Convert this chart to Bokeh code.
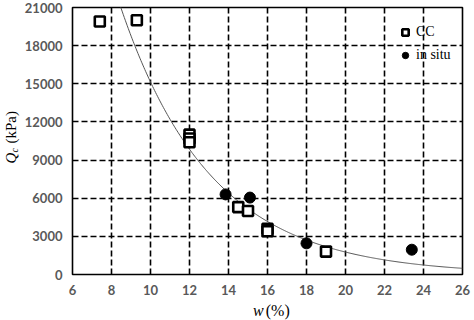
import numpy as np
from bokeh.plotting import figure
from bokeh.layouts import row, column
from bokeh.models import Range1d, FixedTicker, Label, Legend, LegendItem
from bokeh.embed import file_html
from bokeh.resources import INLINE

# ---- data ----
cc_w = [7.4, 9.3, 12.0, 12.0, 12.0, 14.5, 15.0, 16.0, 16.0, 19.0]
cc_q = [19900, 20000, 11000, 10700, 10400, 5300, 5000, 3600, 3400, 1800]
insitu_w = [13.85, 15.1, 18.0, 23.4]
insitu_q = [6300, 6050, 2450, 1950]
# exponential trendline Q = A * exp(-B * w), coefficients
TREND_A = 130000.0
TREND_B = 0.215
x_ticks = [6, 8, 10, 12, 14, 16, 18, 20, 22, 24, 26]
y_ticks = [0, 3000, 6000, 9000, 12000, 15000, 18000, 21000]

W, H = 474, 320
YLAB_W = 20          # strip holding the y-axis title
XLAB_H = 18          # strip holding the x-axis title
MAIN_W, MAIN_H = W - YLAB_W, H - XLAB_H
X0, X1, Y0, Y1 = 6, 26, 0, 21000
serif = "Liberation Serif"

p = figure(width=MAIN_W, height=MAIN_H, output_backend="svg",
           toolbar_location=None,
           x_range=Range1d(X0, X1), y_range=Range1d(Y0, Y1),
           min_border_left=72 - YLAB_W, min_border_right=12, min_border_top=7,
           min_border_bottom=MAIN_H - 274)
p.background_fill_color = "white"
p.border_fill_color = "white"
p.outline_line_color = "black"
p.outline_line_width = 1.6

for ax, ticks in ((p.xaxis, x_ticks), (p.yaxis, y_ticks)):
    ax.ticker = FixedTicker(ticks=ticks)
    ax.axis_line_color = None
    ax.major_tick_line_color = None
    ax.minor_tick_line_color = None
    ax.major_tick_in = 0
    ax.major_tick_out = 0
    ax.major_label_text_font = "Lato"
    ax.major_label_text_font_style = "bold"
    ax.major_label_text_font_size = "13px"
    ax.major_label_text_color = "#595959"
p.xaxis.major_label_standoff = 10
p.yaxis.major_label_standoff = 10

for g in (p.xgrid, p.ygrid):
    g.grid_line_color = "black"
    g.grid_line_width = 1.6
    g.grid_line_dash = "6 3"
p.xgrid.ticker = FixedTicker(ticks=x_ticks)
p.ygrid.ticker = FixedTicker(ticks=y_ticks)

# trendline
wx = np.linspace(X0, X1, 400)
qy = TREND_A * np.exp(-TREND_B * wx)
p.line(wx, qy, line_color="#555555", line_width=1)

r_cc = p.scatter(cc_w, cc_q, marker="square", size=10, fill_color="white",
                 line_color="black", line_width=2.6)
r_in = p.scatter(insitu_w, insitu_q, marker="circle", size=11,
                 fill_color="black", line_color="black")

legend = Legend(items=[LegendItem(label="CC", renderers=[r_cc]),
                       LegendItem(label="in situ", renderers=[r_in])],
                location=(325, 209), glyph_width=16, glyph_height=20,
                label_height=20, spacing=3, padding=0, margin=0,
                label_standoff=3, label_text_font=serif,
                label_text_font_size="14px", label_text_color="black",
                border_line_alpha=0, background_fill_alpha=0)
p.add_layout(legend)


def strip(w, h):
    f = figure(width=w, height=h, output_backend="svg", toolbar_location=None,
               x_range=Range1d(0, w), y_range=Range1d(0, h),
               x_axis_location=None, y_axis_location=None,
               min_border=0, min_border_left=0, min_border_right=0,
               min_border_top=0, min_border_bottom=0)
    f.grid.visible = False
    f.outline_line_color = None
    f.background_fill_color = "white"
    f.border_fill_color = "white"
    return f


def lab(f, text, x, y, size="16px", style="normal", angle=0.0):
    f.add_layout(Label(x=x, y=y, text=text, text_font=serif,
                       text_font_style=style, text_font_size=size,
                       angle=angle, text_baseline="middle",
                       text_align="left", text_color="black"))


# x-axis title: "w (%)" in the strip's own coordinates
xl = strip(MAIN_W, XLAB_H)
lab(xl, "w", 210, H - 310, style="italic")
lab(xl, "(%)", 225, H - 310)

# y-axis title: "Q_c (kPa)", rotated
yl = strip(YLAB_W, H)
lab(yl, "Q", 10, H - 163, size="15px", style="italic", angle=np.pi / 2)
lab(yl, "c", 14, H - 152, size="10px", style="italic", angle=np.pi / 2)
lab(yl, "(kPa)", 10, H - 143, size="15px", angle=np.pi / 2)

layout = row(yl, column(p, xl, spacing=0), spacing=0)
open("out.html", "w").write(file_html(layout, INLINE))
